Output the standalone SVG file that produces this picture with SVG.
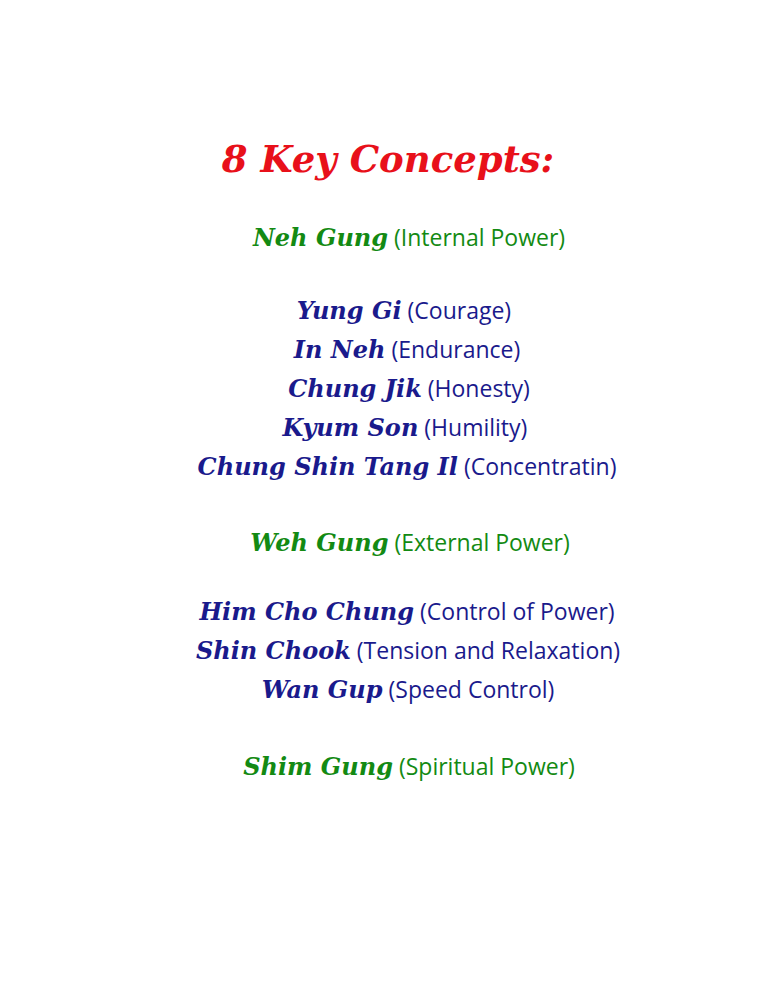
<svg xmlns="http://www.w3.org/2000/svg" width="768" height="994" viewBox="0 0 768 994">
<style>
text{text-anchor:middle}
.d{font-family:"DejaVu Serif",serif;font-weight:bold;font-style:italic}
.p{font-family:"Open Sans","Liberation Sans",sans-serif;font-size:23px}
.g{fill:#138a13}.b{fill:#1a1a8c}
.l{font-size:24px}
</style>
<rect width="768" height="994" fill="#fff"/>
<g id="title"><text x="388" y="172" class="d" font-size="37" fill="#e8101a">8 Key Concepts:</text></g>
<g id="n1"><text x="409" y="246" class="g"><tspan class="d l">Neh Gung</tspan><tspan class="p"> (Internal Power)</tspan></text></g>
<g id="n2"><text x="404" y="319" class="b"><tspan class="d l">Yung Gi</tspan><tspan class="p"> (Courage)</tspan></text></g>
<g id="n3"><text x="407" y="358" class="b"><tspan class="d l">In Neh</tspan><tspan class="p"> (Endurance)</tspan></text></g>
<g id="n4"><text x="409" y="397" class="b"><tspan class="d l">Chung Jik</tspan><tspan class="p"> (Honesty)</tspan></text></g>
<g id="n5"><text x="405" y="436" class="b"><tspan class="d l">Kyum Son</tspan><tspan class="p"> (Humility)</tspan></text></g>
<g id="n6"><text x="407" y="475" class="b"><tspan class="d l">Chung Shin Tang Il</tspan><tspan class="p"> (Concentratin)</tspan></text></g>
<g id="n7"><text x="410" y="551" class="g"><tspan class="d l">Weh Gung</tspan><tspan class="p"> (External Power)</tspan></text></g>
<g id="n8"><text x="407" y="620" class="b"><tspan class="d l">Him Cho Chung</tspan><tspan class="p"> (Control of Power)</tspan></text></g>
<g id="n9"><text x="408" y="659" class="b"><tspan class="d l">Shin Chook</tspan><tspan class="p"> (Tension and Relaxation)</tspan></text></g>
<g id="n10"><text x="408" y="698" class="b"><tspan class="d l">Wan Gup</tspan><tspan class="p"> (Speed Control)</tspan></text></g>
<g id="n11"><text x="409" y="775" class="g"><tspan class="d l">Shim Gung</tspan><tspan class="p"> (Spiritual Power)</tspan></text></g>
<g id="connectors"/>
</svg>
